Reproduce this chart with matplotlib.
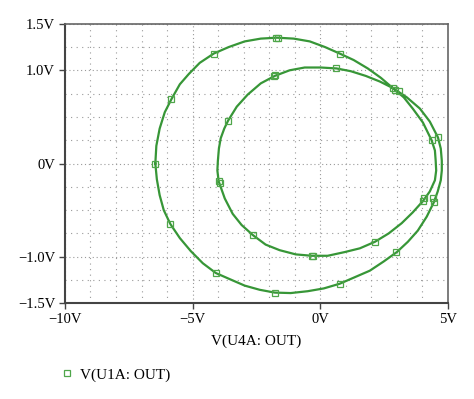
import numpy as np
import matplotlib.pyplot as plt

# curve (volts), one closed two-turn path
curve_x = [-6.46, -6.42, -6.29, -6.09, -5.83, -5.50, -5.15, -4.72, -4.17, -3.58, -2.96, -2.33,
           -1.70, -1.04, -0.41, 0.18, 0.76, 1.31, 1.86, 2.37, 2.84,
           3.27, 3.62, 4.02, 4.36, 4.49, 4.52, 4.54, 4.49, 4.29, 4.03, 3.62, 3.19, 2.68, 2.14,
           1.55, 0.96, 0.29, -0.33, -0.96, -1.59, -2.14, -2.63, -3.08, -3.43, -3.74, -3.98,
           -4.03, -4.01, -3.97, -3.90, -3.76, -3.61, -3.27, -2.84, -2.33, -1.78, -1.20, -0.61,
           0.02, 0.64, 1.20, 1.78, 2.33, 2.84,
           3.39, 3.90, 4.29, 4.61, 4.72, 4.76, 4.76, 4.72, 4.60, 4.45, 4.17, 3.82, 3.43, 3.00,
           2.49, 1.94, 1.35, 0.76, 0.14, -0.49, -1.16, -1.78, -2.37, -2.96, -3.55, -4.09,
           -4.60, -5.07, -5.50, -5.87, -6.13, -6.29, -6.40, -6.46]
curve_y = [0.00, 0.19, 0.375, 0.55, 0.69, 0.85, 0.96, 1.08, 1.18, 1.25, 1.31, 1.34,
           1.35, 1.34, 1.31, 1.25, 1.18, 1.11, 1.02, 0.92, 0.81,
           0.71, 0.59, 0.44, 0.25, 0.14, 0.03, -0.075, -0.18, -0.30, -0.40, -0.525, -0.64,
           -0.75, -0.84, -0.91, -0.95, -0.99, -0.99, -0.975, -0.93, -0.87, -0.77, -0.66,
           -0.54, -0.375, -0.19,
           -0.075, 0.03, 0.16, 0.27, 0.375, 0.46, 0.61, 0.74, 0.86, 0.94, 1.00, 1.03,
           1.03, 1.02, 0.99, 0.94, 0.88, 0.81,
           0.71, 0.59, 0.45, 0.28, 0.16, 0.03, -0.075, -0.18, -0.30, -0.415, -0.57, -0.72,
           -0.84, -0.95, -1.05, -1.15, -1.22, -1.29, -1.34, -1.37, -1.39, -1.385, -1.355,
           -1.31, -1.24, -1.175, -1.07, -0.94, -0.80, -0.65, -0.50, -0.34, -0.17, 0.00]

# square markers
mk_x = [-6.46, -5.83, -4.17, -1.72, -1.65, 0.76, 2.84, 2.92, 3.07, 4.61, 4.36, 4.45, 4.43,
        4.03, 4.07, 2.98, 2.13, 0.76, -1.78, -4.09, -5.87, -0.34, -0.27, -2.63, -3.98, -3.94,
        -3.61, -1.82, -1.76, 0.63]
mk_y = [0.00, 0.69, 1.18, 1.35, 1.35, 1.18, 0.81, 0.79, 0.78, 0.28, 0.25, -0.41, -0.37,
        -0.40, -0.37, -0.95, -0.84, -1.29, -1.39, -1.18, -0.65, -0.99, -0.99, -0.77, -0.19, -0.21,
        0.46, 0.94, 0.95, 1.02]

xticks = [-10, -5, 0, 5]
xlabels = ['\u221210V', '\u22125V', '0V', '5V']
yticks = [-1.5, -1.0, 0, 1.0, 1.5]
ylabels = ['\u22121.5V', '\u22121.0V', '0V', '1.0V', '1.5V']

plt.rcParams['font.family'] = ['Liberation Serif', 'DejaVu Serif']
green = '#379637'

fig = plt.figure(figsize=(4.74, 3.99), dpi=100)
ax = fig.add_axes([0.137, 0.2398, 0.808, 0.7008])

ax.plot(curve_x, curve_y, color=green, lw=1.6, zorder=3, solid_joinstyle='round')
ax.plot(mk_x, mk_y, ls='none', marker='s', ms=5, mfc='none', mec='#4fa64a', mew=0.9, zorder=4)

ax.set_xlim(-10, 5)
ax.set_ylim(-1.5, 1.5)
ax.set_xticks(xticks)
ax.set_xticklabels(xlabels)
ax.set_yticks(yticks)
ax.set_yticklabels(ylabels)
ax.set_xticks(np.arange(-10, 6, 1), minor=True)
ax.set_yticks(np.arange(-1.5, 1.6, 0.25), minor=True)
ax.tick_params(which='major', length=4, width=1, color='#444444', labelsize=10.5, pad=3)
ax.tick_params(which='minor', length=0)
ax.grid(which='minor', color='#9a9a9a', ls=(0, (1, 4)), lw=0.8)
ax.grid(which='major', color='#9a9a9a', ls=(0, (1, 2.5)), lw=0.8)
ax.set_axisbelow(True)

for s in ['left', 'bottom']:
    ax.spines[s].set_color('#444444')
    ax.spines[s].set_linewidth(1.5)
for s in ['top', 'right']:
    ax.spines[s].set_color('#666666')
    ax.spines[s].set_linewidth(1.2)

ax.set_xlabel('V(U4A: OUT)', fontsize=11, labelpad=6)

fig.legend([plt.Line2D([], [], ls='none', marker='s', ms=5, mfc='none', mec='#4fa64a', mew=0.9)],
           ['V(U1A: OUT)'], loc='center left', bbox_to_anchor=(0.097, 0.06),
           frameon=False, fontsize=11, handletextpad=0.3, handlelength=1.0)

fig.savefig('out.png', dpi=100)
